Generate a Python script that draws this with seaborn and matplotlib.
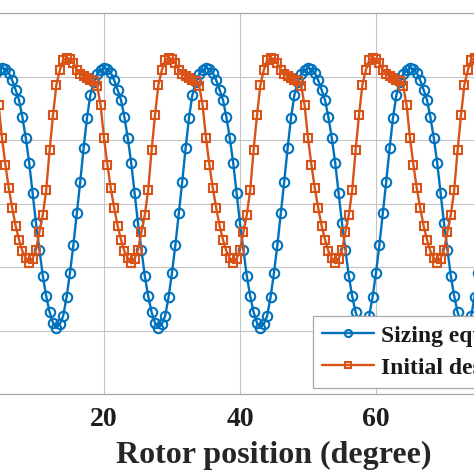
import numpy as np
import pandas as pd
import matplotlib
matplotlib.use('Agg')
import matplotlib.pyplot as plt
import seaborn as sns

# Rotor position (degree), sampled every 0.5 degree over 0-90
posicao = np.arange(0, 90.5, 0.5)

# One period (15 degree) of each curve, starting at 0 degree
periodo_sizing = [1.91, 2.35, 2.85, 3.34, 3.87, 4.35, 4.71, 4.91, 5.04, 5.10,
                  5.13, 5.12, 5.06, 4.94, 4.79, 4.63, 4.36, 4.03, 3.64, 3.17,
                  2.69, 2.27, 1.86, 1.54, 1.29, 1.12, 1.04, 1.10, 1.23, 1.53]
periodo_initial = [5.28, 5.21, 5.10, 5.04, 5.01, 4.98, 4.94, 4.93, 4.85, 4.55,
                   4.03, 3.61, 3.24, 2.93, 2.65, 2.43, 2.25, 2.14, 2.06, 2.13,
                   2.27, 2.55, 2.82, 3.21, 3.84, 4.39, 4.87, 5.10, 5.26, 5.29]

rotulos = ['Sizing equation', 'Initial design']
cores = ['#0072BD', '#D95319']
marcadores = ['o', 's']
xticks = [0, 20, 40, 60, 80]
yticks = [0, 1, 2, 3, 4, 5, 6]


# Repeat the measured period along the whole rotor position range
def montar_curva(periodo):
    n = len(posicao)
    return np.tile(periodo, n // len(periodo) + 1)[:n]


dados = pd.concat([
    pd.DataFrame({'posicao': posicao, 'valor': montar_curva(periodo_sizing), 'curva': rotulos[0]}),
    pd.DataFrame({'posicao': posicao, 'valor': montar_curva(periodo_initial), 'curva': rotulos[1]}),
], ignore_index=True)

sns.set_theme(style='whitegrid')
plt.rcParams['font.family'] = ['Liberation Serif', 'DejaVu Serif']
plt.rcParams['font.weight'] = 'bold'

fig = plt.figure(figsize=(4.74, 4.74), dpi=100)
# axes run past the left and right edges (the picture is a crop)
ax = fig.add_axes([-32 / 474, 80 / 474, 612 / 474, 381 / 474])

for rotulo, cor, marc in zip(rotulos, cores, marcadores):
    sub = dados[dados['curva'] == rotulo]
    sns.lineplot(x='posicao', y='valor', data=sub, ax=ax, color=cor, marker=marc,
                 markersize=6.8 if marc == 'o' else 6.4, mfc='none', mec=cor, mew=1.5,
                 lw=1.7, label=rotulo, legend=False)

ax.set_xlim(0, 90)
ax.set_ylim(0, 6)
ax.set_xticks(xticks)
ax.set_yticks(yticks)
ax.grid(True, color='#c4c4c4', lw=0.8)
ax.set_axisbelow(True)
for s in ax.spines.values():
    s.set_color('#a8a8a8')
    s.set_linewidth(0.9)
ax.tick_params(axis='x', direction='in', length=0, pad=9, labelsize=20, labelcolor='#1e1e1e')
ax.set_xlabel('Rotor position (degree)', fontsize=23, fontweight='bold', color='#262626', labelpad=7)
ax.set_ylabel('')

leg = ax.legend(loc='upper left', bbox_to_anchor=(0.5637, 0.2047), borderaxespad=0,
                prop={'family': 'Liberation Serif', 'weight': 'bold', 'size': 17},
                frameon=True, fancybox=False, edgecolor='#a8a8a8', framealpha=1,
                handlelength=2.2, handletextpad=0.3, borderpad=0.38, labelspacing=0.45,
                markerscale=0.75)
leg.get_frame().set_linewidth(0.9)
for t in leg.get_texts():
    t.set_color('#1a1a1a')

fig.savefig('out.png', dpi=100)
